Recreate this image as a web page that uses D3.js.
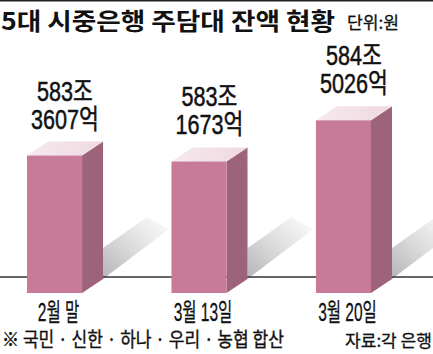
<!DOCTYPE html>
<html>
<head>
<meta charset="utf-8">
<script src="https://cdn.jsdelivr.net/npm/d3@7"></script>
<style>
  html, body { margin: 0; padding: 0; background: #fff; }
  svg { display: block; }
  text { font-family: "Liberation Sans", Arial, "Noto Sans CJK KR", sans-serif; fill: #111; }
  .kr { font-family: "Noto Sans CJK KR", sans-serif; }
</style>
</head>
<body>
<div id="chart"></div>
<script>
// data (unit: 조원)
var categories = ["2월 말", "3월 13일", "3월 20일"];
var balances = [583.3607, 583.1673, 584.5026];
var labelTop = ["583조", "583조", "584조"];
var labelBottom = ["3607억", "1673억", "5026억"];

var title = "5대 시중은행 주담대 잔액 현황";
var unitText = "단위:원";
var noteText = "※ 국민 · 신한 · 하나 · 우리 · 농협 합산";
var sourceText = "자료:각 은행";

(function() {
    'use strict';

    var width = 433, height = 354;
    var baseY = 277;      // drawn base line
    var barBottom = 293;  // bars run a bit past the line
    var depth = { x: 21, y: -14 };

    var svg = d3.select("#chart").append("svg")
        .attr("width", width).attr("height", height);
    var defs = svg.append("defs");

    var shade = defs.append("linearGradient").attr("id", "shade")
        .attr("x1", 0).attr("y1", 1).attr("x2", 1).attr("y2", 0);
    shade.append("stop").attr("offset", 0).attr("stop-color", "#b5b5b5");
    shade.append("stop").attr("offset", 0.45).attr("stop-color", "#dadada");
    shade.append("stop").attr("offset", 1).attr("stop-color", "#ffffff");

    var topGrad = defs.append("linearGradient").attr("id", "topface")
        .attr("x1", 0).attr("y1", 0).attr("x2", 1).attr("y2", 0);
    topGrad.append("stop").attr("offset", 0).attr("stop-color", "#f6e9ee");
    topGrad.append("stop").attr("offset", 1).attr("stop-color", "#efd9e1");

    // scales
    var x = d3.scaleBand()
        .domain(categories)
        .range([27, 371])
        .paddingInner(0.619)
        .paddingOuter(0);
    var y = d3.scaleLinear()
        .domain([578.9, 585])
        .range([barBottom, 105]);

    // top rule
    svg.append("rect").attr("x", 0).attr("y", 0)
        .attr("width", width).attr("height", 1.5).attr("fill", "#222");

    // title
    svg.append("text").attr("class", "kr")
        .attr("x", 1).attr("y", 30)
        .attr("font-size", 24).attr("font-weight", 700)
        .attr("textLength", 334).attr("lengthAdjust", "spacingAndGlyphs")
        .text(title);
    svg.append("text").attr("class", "kr")
        .attr("x", 347).attr("y", 29)
        .attr("font-size", 17)
        .attr("stroke", "#111").attr("stroke-width", 0.3)
        .attr("textLength", 52).attr("lengthAdjust", "spacingAndGlyphs")
        .text(unitText);

    var rows = categories.map(function(c, i) {
        return { cat: c, value: balances[i], top: labelTop[i], bottom: labelBottom[i] };
    });

    // shadows
    svg.selectAll(".shadow").data(rows).enter().append("path")
        .attr("class", "shadow")
        .attr("fill", "url(#shade)")
        .attr("d", function(d) {
            var sx = x(d.cat) + x.bandwidth() + depth.x;
            return "M" + sx + "," + (baseY + 2) +
                "L" + sx + "," + (baseY - 29) +
                "L" + (sx + 44) + "," + (baseY - 60) +
                "L" + (sx + 66) + "," + (baseY - 48) + "Z";
        });

    // base line
    svg.append("line")
        .attr("x1", 0).attr("x2", width)
        .attr("y1", baseY).attr("y2", baseY)
        .attr("stroke", "#333").attr("stroke-width", 1.5);

    // bars
    var bars = svg.selectAll(".bar").data(rows).enter().append("g").attr("class", "bar");

    bars.append("path")
        .attr("fill", "#9d637a")
        .attr("d", function(d) {
            var x1 = x(d.cat) + x.bandwidth(), t = y(d.value);
            return "M" + x1 + "," + t +
                "L" + (x1 + depth.x) + "," + (t + depth.y) +
                "L" + (x1 + depth.x) + "," + (barBottom + depth.y) +
                "L" + x1 + "," + barBottom + "Z";
        });
    bars.append("path")
        .attr("fill", "url(#topface)")
        .attr("d", function(d) {
            var x0 = x(d.cat), x1 = x0 + x.bandwidth(), t = y(d.value);
            return "M" + x0 + "," + t +
                "L" + (x0 + depth.x) + "," + (t + depth.y) +
                "L" + (x1 + depth.x) + "," + (t + depth.y) +
                "L" + x1 + "," + t + "Z";
        });
    bars.append("rect")
        .attr("fill", "#c87b98")
        .attr("x", function(d) { return x(d.cat); })
        .attr("y", function(d) { return y(d.value); })
        .attr("width", x.bandwidth())
        .attr("height", function(d) { return barBottom - y(d.value); });

    // condensed look for the labels
    function squeeze(sel, k) {
        sel.each(function() {
            var n = this.getComputedTextLength();
            d3.select(this).attr("textLength", n * k).attr("lengthAdjust", "spacingAndGlyphs");
        });
    }
    var lx = function(d) { return x(d.cat) + (x.bandwidth() + depth.x) / 2; };

    bars.append("text")
        .attr("text-anchor", "middle")
        .attr("font-size", 27)
        .attr("stroke", "#111").attr("stroke-width", 0.5)
        .attr("x", lx)
        .attr("y", function(d) { return y(d.value) - 55; })
        .text(function(d) { return d.top; })
        .call(squeeze, 0.8);
    bars.append("text")
        .attr("text-anchor", "middle")
        .attr("font-size", 27)
        .attr("stroke", "#111").attr("stroke-width", 0.5)
        .attr("x", lx)
        .attr("y", function(d) { return y(d.value) - 27; })
        .text(function(d) { return d.bottom; })
        .call(squeeze, 0.8);

    // category labels
    svg.selectAll(".cat").data(rows).enter().append("text")
        .attr("class", "cat")
        .attr("text-anchor", "middle")
        .attr("font-size", 25)
        .attr("stroke", "#111").attr("stroke-width", 0.3)
        .attr("x", function(d) { return x(d.cat) + x.bandwidth() / 2 + 4; })
        .attr("y", 321)
        .text(function(d) { return d.cat; })
        .call(squeeze, 0.62);

    // footnotes
    svg.append("text").attr("class", "kr")
        .attr("x", 2).attr("y", 347)
        .attr("font-size", 20)
        .attr("stroke", "#111").attr("stroke-width", 0.4)
        .attr("textLength", 282).attr("lengthAdjust", "spacingAndGlyphs")
        .text(noteText);
    svg.append("text").attr("class", "kr")
        .attr("x", 345).attr("y", 347)
        .attr("font-size", 17)
        .attr("stroke", "#111").attr("stroke-width", 0.3)
        .attr("textLength", 87).attr("lengthAdjust", "spacingAndGlyphs")
        .text(sourceText);
})();
</script>
</body>
</html>
